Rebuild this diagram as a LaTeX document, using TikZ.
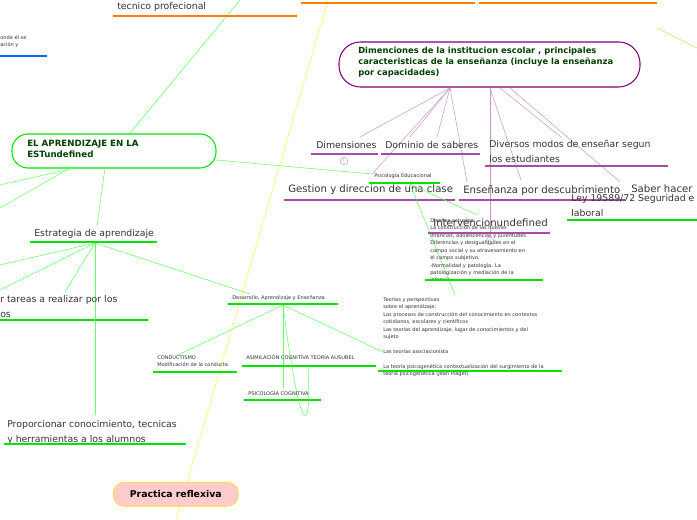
\documentclass[tikz,border=0pt]{standalone}
\usepackage{fontspec}
\setmainfont{DejaVu Sans}
\begin{document}
\begin{tikzpicture}[x=0.75pt,y=-0.75pt,
  t/.style={anchor=north west,inner sep=0pt,align=left,text=black!80},
  big/.style={t,font=\fontsize{7}{9}\selectfont},
  sm/.style={t,font=\fontsize{3.8}{5.6}\selectfont},
  gl/.style={draw=green!90!black,line width=1.2pt},
  pl/.style={draw=violet!70,line width=1.2pt},
  ol/.style={draw=orange,line width=1.2pt},
  gc/.style={draw=green!60,thin},
  pc/.style={draw=violet!40,thin}]
\useasboundingbox (0,0) rectangle (697,520);
% long background lines
\draw[gc] (240,0) -- (130,133);
\draw[draw=yellow!70,thin] (328,0) -- (176,520);
\draw[draw=yellow!60!green!60,thin] (657,28) -- (697,48);
% top
\node[big] (tp) at (117,2) {tecnico profecional};
\draw[ol] (113,16) -- (297,16);
\draw[ol] (301,3) -- (475,3);
\draw[ol] (479,3) -- (657,3);
\node[sm] (od) at (0,35) {onde él se\\ación y};
\draw[draw=blue!60!cyan,line width=1pt] (0,56) -- (47,56);
% main purple box
\draw[draw=violet,line width=0.8pt,rounded corners=16pt] (339,42) rectangle (640,87);
\node[anchor=north west,inner sep=0pt,align=left,font=\fontsize{6.3}{8.2}\selectfont\bfseries,text=green!25!black] (dim) at (358,47) {Dimenciones de la institucion  escolar , principales\\caracteristicas de la enseñanza (incluye la enseñanza\\por capacidades)};
\coordinate (db) at (450,88);
\coordinate (db2) at (490,88);
\draw[pc] (db) -- (360,137);
\draw[pc] (db) -- (410,137);
\draw[pc] (db) -- (437,137);
\draw[pc] (db) -- (372,174);
\draw[pc] (db) -- (467,182);
\draw[pc] (db2) -- (490,232);
\draw[pc] (db2) -- (521,180);
\draw[pc] (500,88) -- (561,137);
\draw[pc] (510,88) -- (620,182);
\node[big] (dm) at (316,141) {Dimensiones};
\draw[pl] (311,154) -- (378,154);
\node[draw=violet!40,circle,inner sep=1pt,font=\fontsize{3}{3}\selectfont,text=violet!40] (c1) at (344,161) {1};
\node[big] (ds) at (385,141) {Dominio de saberes};
\draw[pl] (381,154) -- (480,154);
\node[big,font=\fontsize{7}{11}\selectfont] (dv) at (489,140) {Diversos modos de enseñar segun\\los estudiantes};
\draw[pl] (485,166) -- (668,166);
\node[big,font=\fontsize{7.6}{9}\selectfont] (gd) at (288,185) {Gestion y direccion de una clase};
\draw[pl] (284,200) -- (455,200);
\node[big,font=\fontsize{7.6}{9}\selectfont] (ep) at (463,185) {Enseñanza por descubrimiento};
\draw[pl] (459,200) -- (625,200);
\node[big,font=\fontsize{7.6}{9}\selectfont] (sh) at (631,185) {Saber hacer};
\node[big,font=\fontsize{7}{11}\selectfont] (ley) at (571,194) {Ley 19589/72 Seguridad e\\laboral};
\draw[gl] (567,220) -- (697,220);
\node[sm] (pe) at (374,173) {Psicología Educacional};
\draw[gl] (369,183) -- (440,183);
\draw[gc] (410,184) -- (455,295);
\draw[gc] (410,184) -- (477,215);
\node[sm] (dis) at (430,218) {Diseños actuales:\\La construcción de las nuevas\\infancias, adolescencias y juventudes.\\Diferencias y desigualdades en el\\campo social y su atravesamiento en\\el campo subjetivo.\\-Normalidad y patología. La\\patologización y mediación de la\\infancia};
\draw[gl] (425,280) -- (543,280);
\node[big,font=\fontsize{7.6}{9}\selectfont] (int) at (433,219) {Intervencionundefined};
\draw[pl] (428,233) -- (550,233);
\node[draw=violet!40,circle,inner sep=1pt,font=\fontsize{3}{3}\selectfont,text=violet!40] (c4) at (490,241) {4};
\node[sm] (teo) at (383,297) {Teorías y perspectivas\\sobre el aprendizaje:\\Los procesos de construcción del conocimiento en contextos\\cotidianos, escolares y científicos\\Las teorías del aprendizaje, lugar de conocimientos y del\\sujeto\\\\Las teorías asociacionista\\\\La teoría psicogenética contextualización del surgimiento de la\\teoría psicogenética (Jean Piaget)};
\draw[gl] (378,371) -- (562,371);
% left part
\draw[draw=green!90!black,line width=0.8pt,rounded corners=12pt] (12,134) rectangle (216,168);
\node[anchor=north west,inner sep=0pt,align=left,font=\fontsize{6.5}{8.4}\selectfont\bfseries,text=green!25!black] (ea) at (27,140) {EL APRENDIZAJE EN LA\\ESTundefined};
\draw[gc] (216,160) -- (372,174);
\draw[gc] (75,168) -- (0,185);
\draw[gc] (70,168) -- (0,208);
\draw[gc] (105,168) -- (97,226);
\node[big] (es) at (34,229) {Estrategia de aprendizaje};
\draw[gl] (30,242) -- (157,242);
\coordinate (eb) at (95,243);
\draw[gc] (eb) -- (0,265);
\draw[gc] (eb) -- (0,290);
\draw[gc] (eb) -- (65,292);
\draw[gc] (eb) -- (95,415);
\draw[gc] (eb) -- (250,294);
\node[big,font=\fontsize{7}{11}\selectfont] (tr) at (0,295) {r tareas a realizar por los\\os};
\draw[gl] (0,320) -- (148,320);
\node[big,font=\fontsize{7}{11}\selectfont] (pc2) at (7,420) {Proporcionar conocimiento, tecnicas\\y herramientas a los alumnos};
\draw[gl] (4,444) -- (186,444);
\node[sm] (dae) at (232,295) {Desarrollo, Aprendizaje y Enseñanza};
\draw[gl] (228,304) -- (338,304);
\coordinate (dd) at (283,305);
\draw[gc] (dd) -- (178,355);
\draw[gc] (dd) -- (283,388);
\draw[gc] (dd) -- (383,352);
\draw[gc] (283,305) .. controls (300,440) and (312,440) .. (308,366);
\node[sm] (con) at (157,355) {CONDUCTISMO\\Modificación de la conducta};
\draw[gl] (153,372) -- (237,372);
\node[sm] (asi) at (246,355) {ASIMILACIÓN COGNITIVA  TEORÍA AUSUBEL};
\draw[gl] (242,366) -- (376,366);
\node[sm] (psc) at (248,391) {PSICOLOGÍA COGNITIVA};
\draw[gl] (244,400) -- (321,400);
\node[draw=yellow!80!orange,fill=pink!80,rounded corners=8pt,minimum width=125*0.75pt,minimum height=24*0.75pt,font=\fontsize{7}{9}\selectfont\bfseries,anchor=north west,inner sep=0pt] (pr) at (113,482) {Practica reflexiva};
\end{tikzpicture}
\end{document}
